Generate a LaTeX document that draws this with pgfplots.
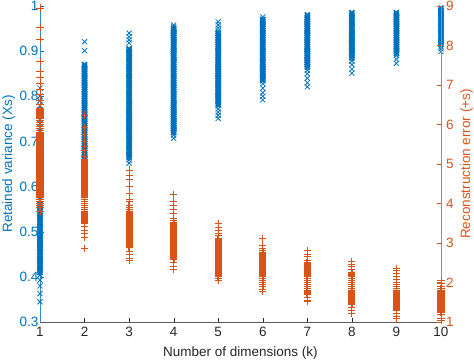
\documentclass[border=0pt]{standalone}
\usepackage{fontspec}
\setmainfont{Liberation Sans}
\usepackage{pgfplots}
\pgfplotsset{compat=1.18}
\definecolor{mblue}{RGB}{0,114,189}
\definecolor{morange}{RGB}{217,83,25}
\definecolor{mgray}{RGB}{38,38,38}
\begin{document}
\begin{tikzpicture}
\pgfplotsset{
  base/.style={width=401pt,height=316pt,scale only axis,xmin=1,xmax=10,clip=false,
    tick align=inside, major tick length=4pt,
    font=\fontsize{13.5}{16}\selectfont,
    /pgf/number format/assume math mode=true,
    xtick={1,2,3,4,5,6,7,8,9,10}},
  bcore/.style={only marks, mark=x, mark size=3.6pt, mblue, mark options={line width=1.8pt}},
  bout/.style={only marks, mark=x, mark size=3.6pt, mblue, mark options={line width=0.8pt}},
  ocore/.style={only marks, mark=+, mark size=3.6pt, morange, mark options={line width=1.8pt}},
  oout/.style={only marks, mark=+, mark size=3.6pt, morange, mark options={line width=0.8pt}},
}
\begin{axis}[base, axis x line*=bottom, axis y line*=left,
  ymin=0.3, ymax=1, ytick={0.3,0.4,0.5,0.6,0.7,0.8,0.9,1},
  x axis line style={draw=mgray!75, line width=0.6pt},
  y axis line style={draw=mblue!80, line width=0.6pt},
  xtick style={draw=mgray}, ytick style={draw=mblue},
  xticklabel style={text=mgray, yshift=-1.5pt}, yticklabel style={text=mblue, xshift=2pt},
  xlabel={Number of dimensions (k)},
  xlabel style={text=mgray, at={(axis description cs:0.5,-0.097)}, anchor=center},
  ylabel={Retained variance (Xs)},
  ylabel style={text=mblue, at={(axis description cs:-0.078,0.5)}, anchor=center},
]
% outlying retained-variance points
\addplot[bout] coordinates {
(1,.345)(1,.363)(1,.380)(1,.393)(1,.404)(1,.818)
(1,.57)(1,.58)(1,.59)(1,.60)(1,.61)(1,.62)(1,.63)(1,.64)(1,.65)(1,.66)(1,.67)(1,.68)
(1,.69)(1,.70)(1,.71)(1,.72)(1,.73)(1,.74)(1,.75)(1,.76)(1,.77)(1,.78)(1,.79)(1,.80)
(2,.901)(2,.921)
(3,.652)(3,.659)(3,.918)(3,.925)(3,.932)(3,.940)
(4,.707)(4,.714)(4,.954)(4,.958)
(5,.751)(5,.758)(5,.765)(5,.772)(5,.945)(5,.951)(5,.958)(5,.965)
(6,.792)(6,.800)(6,.808)(6,.818)(6,.828)(6,.976)
(7,.821)(7,.830)(7,.840)(7,.850)(7,.858)
(8,.851)(8,.860)(8,.870)(8,.878)
(9,.873)(9,.882)(9,.890)
(10,.899)(10,.905)(10,.910)
};
% dense retained-variance points
\addplot[bcore] coordinates {
(1,.410)(1,.415)(1,.420)(1,.425)(1,.430)(1,.435)(1,.440)(1,.445)(1,.450)(1,.455)
(1,.460)(1,.465)(1,.470)(1,.475)(1,.480)(1,.485)(1,.490)(1,.495)(1,.500)(1,.505)
(1,.510)(1,.515)(1,.520)(1,.525)(1,.530)(1,.535)(1,.540)(1,.545)(1,.550)(1,.555)(1,.560)
(2,.62)(2,.63)(2,.64)(2,.65)(2,.66)
(2,.665)(2,.670)(2,.675)(2,.680)(2,.685)(2,.690)(2,.695)(2,.700)(2,.705)(2,.710)
(2,.715)(2,.720)(2,.725)(2,.730)(2,.735)(2,.740)(2,.745)(2,.750)(2,.755)(2,.760)
(2,.765)(2,.770)(2,.775)(2,.780)(2,.785)(2,.790)(2,.795)(2,.800)(2,.805)(2,.810)
(2,.815)(2,.820)(2,.825)(2,.830)(2,.835)(2,.840)(2,.845)(2,.850)(2,.855)(2,.860)
(2,.865)(2,.870)
(3,.665)(3,.670)(3,.675)(3,.680)(3,.685)(3,.690)(3,.695)(3,.700)(3,.705)(3,.710)
(3,.715)(3,.720)(3,.725)(3,.730)(3,.735)(3,.740)(3,.745)(3,.750)(3,.755)(3,.760)
(3,.765)(3,.770)(3,.775)(3,.780)(3,.785)(3,.790)(3,.795)(3,.800)(3,.805)(3,.810)
(3,.815)(3,.820)(3,.825)(3,.830)(3,.835)(3,.840)(3,.845)(3,.850)(3,.855)(3,.860)
(3,.865)(3,.870)(3,.875)(3,.880)(3,.885)(3,.890)(3,.895)(3,.900)(3,.905)
(4,.720)(4,.725)(4,.730)(4,.735)(4,.740)(4,.745)(4,.750)(4,.755)(4,.760)
(4,.765)(4,.770)(4,.775)(4,.780)(4,.785)(4,.790)(4,.795)(4,.800)(4,.805)(4,.810)
(4,.815)(4,.820)(4,.825)(4,.830)(4,.835)(4,.840)(4,.845)(4,.850)(4,.855)(4,.860)
(4,.865)(4,.870)(4,.875)(4,.880)(4,.885)(4,.890)(4,.895)(4,.900)(4,.905)(4,.910)
(4,.915)(4,.920)(4,.925)(4,.930)(4,.935)(4,.940)(4,.945)(4,.950)
(5,.780)(5,.785)(5,.790)(5,.795)(5,.800)(5,.805)(5,.810)
(5,.815)(5,.820)(5,.825)(5,.830)(5,.835)(5,.840)(5,.845)(5,.850)(5,.855)(5,.860)
(5,.865)(5,.870)(5,.875)(5,.880)(5,.885)(5,.890)(5,.895)(5,.900)(5,.905)(5,.910)
(5,.915)(5,.920)(5,.925)(5,.930)(5,.935)(5,.940)
(6,.835)(6,.840)(6,.845)(6,.850)(6,.855)(6,.860)
(6,.865)(6,.870)(6,.875)(6,.880)(6,.885)(6,.890)(6,.895)(6,.900)(6,.905)(6,.910)
(6,.915)(6,.920)(6,.925)(6,.930)(6,.935)(6,.940)(6,.945)(6,.950)(6,.955)(6,.960)
(6,.965)(6,.970)
(7,.865)(7,.870)(7,.875)(7,.880)(7,.885)(7,.890)(7,.895)(7,.900)(7,.905)(7,.910)
(7,.915)(7,.920)(7,.925)(7,.930)(7,.935)(7,.940)(7,.945)(7,.950)(7,.955)(7,.960)
(7,.965)(7,.970)(7,.975)(7,.980)
(8,.885)(8,.890)(8,.895)(8,.900)(8,.905)(8,.910)
(8,.915)(8,.920)(8,.925)(8,.930)(8,.935)(8,.940)(8,.945)(8,.950)(8,.955)(8,.960)
(8,.965)(8,.970)(8,.975)(8,.980)(8,.985)
(9,.895)(9,.900)(9,.905)(9,.910)
(9,.915)(9,.920)(9,.925)(9,.930)(9,.935)(9,.940)(9,.945)(9,.950)(9,.955)(9,.960)
(9,.965)(9,.970)(9,.975)(9,.980)(9,.985)
(10,.915)(10,.920)(10,.925)(10,.930)(10,.935)(10,.940)(10,.945)(10,.950)(10,.955)(10,.960)
(10,.965)(10,.970)(10,.975)(10,.980)(10,.985)(10,.990)(10,.995)
};
\end{axis}
\begin{axis}[base, axis x line=none, axis y line*=right,
  ymin=1, ymax=9, ytick={1,2,3,4,5,6,7,8,9},
  y axis line style={draw=morange!80, line width=0.6pt},
  ytick style={draw=morange}, yticklabel style={text=morange, xshift=1.5pt},
  ylabel={Reconstruction error (+s)},
  ylabel style={text=morange, at={(axis description cs:1.064,0.5)}, anchor=center},
]
% outlying reconstruction-error points
\addplot[oout] coordinates {
(1,3.80)(1,6.50)(1,6.60)(1,6.75)(1,6.90)(1,7.05)(1,7.20)(1,7.35)(1,7.60)(1,8.15)(1,8.45)(1,8.95)
(2,2.87)(2,3.15)(2,3.25)(2,3.33)(2,3.42)(2,5.20)(2,5.35)(2,5.45)(2,5.56)(2,5.75)(2,5.92)(2,6.24)
(3,2.57)(3,2.62)(3,2.70)(3,2.80)(3,4.05)(3,4.10)(3,4.25)(3,4.43)(3,4.60)(3,4.72)(3,4.85)
(4,2.33)(4,2.42)(4,2.52)(4,3.58)(4,3.63)(4,3.75)(4,3.85)(4,3.95)(4,4.05)(4,4.22)
(5,2.06)(5,2.10)(5,3.18)(5,3.25)(5,3.32)(5,3.40)(5,3.50)
(6,1.77)(6,1.83)(6,2.82)(6,2.87)(6,2.95)(6,3.12)
(7,1.51)(7,1.55)(7,1.62)(7,2.57)(7,2.65)(7,2.72)(7,2.82)
(8,1.22)(8,1.30)(8,1.38)(8,2.33)(8,2.40)(8,2.47)(8,2.53)
(9,1.09)(9,1.15)(9,1.22)(9,2.08)(9,2.15)(9,2.22)(9,2.30)(9,2.36)
(10,1.05)(10,1.10)(10,1.18)(10,1.91)(10,1.98)(10,2.06)
};
% dense reconstruction-error points
\addplot[ocore] coordinates {
(1,3.90)(1,3.95)(1,4.00)(1,4.05)(1,4.10)(1,4.15)(1,4.20)(1,4.25)(1,4.30)(1,4.35)
(1,4.40)(1,4.45)(1,4.50)(1,4.55)(1,4.60)(1,4.65)(1,4.70)(1,4.75)(1,4.80)(1,4.85)
(1,4.90)(1,4.95)(1,5.00)(1,5.05)(1,5.10)(1,5.15)(1,5.20)(1,5.25)(1,5.30)(1,5.35)
(1,5.40)(1,5.45)(1,5.50)(1,5.55)(1,5.60)(1,5.65)(1,5.70)(1,5.75)(1,5.80)(1,5.85)
(1,5.90)(1,5.95)(1,6.00)(1,6.05)(1,6.10)(1,6.15)(1,6.20)(1,6.25)(1,6.30)(1,6.35)(1,6.40)
(2,3.50)(2,3.55)(2,3.60)(2,3.65)(2,3.70)(2,3.75)(2,3.80)(2,3.85)(2,3.90)(2,3.95)
(2,4.00)(2,4.05)(2,4.10)(2,4.15)(2,4.20)(2,4.25)(2,4.30)(2,4.35)(2,4.40)(2,4.45)
(2,4.50)(2,4.55)(2,4.60)(2,4.65)(2,4.70)(2,4.75)(2,4.80)(2,4.85)(2,4.90)(2,4.95)
(2,5.00)(2,5.05)(2,5.10)
(3,2.90)(3,2.95)(3,3.00)(3,3.05)(3,3.10)(3,3.15)(3,3.20)(3,3.25)(3,3.30)(3,3.35)
(3,3.40)(3,3.45)(3,3.50)(3,3.55)(3,3.60)(3,3.65)(3,3.70)(3,3.75)(3,3.80)(3,3.85)
(3,3.90)(3,3.95)
(4,2.60)(4,2.65)(4,2.70)(4,2.75)(4,2.80)(4,2.85)(4,2.90)(4,2.95)(4,3.00)(4,3.05)
(4,3.10)(4,3.15)(4,3.20)(4,3.25)(4,3.30)(4,3.35)(4,3.40)(4,3.45)(4,3.50)
(5,2.15)(5,2.20)(5,2.25)(5,2.30)(5,2.35)(5,2.40)(5,2.45)(5,2.50)(5,2.55)(5,2.60)
(5,2.65)(5,2.70)(5,2.75)(5,2.80)(5,2.85)(5,2.90)(5,2.95)(5,3.00)(5,3.05)(5,3.10)
(6,1.90)(6,1.95)(6,2.00)(6,2.05)(6,2.10)(6,2.15)(6,2.20)(6,2.25)(6,2.30)(6,2.35)
(6,2.40)(6,2.45)(6,2.50)(6,2.55)(6,2.60)(6,2.65)(6,2.70)(6,2.75)
(7,1.70)(7,1.75)(7,1.80)(7,1.85)(7,1.90)(7,1.95)(7,2.00)(7,2.05)(7,2.10)(7,2.15)
(7,2.20)(7,2.25)(7,2.30)(7,2.35)(7,2.40)(7,2.45)(7,2.50)
(8,1.45)(8,1.50)(8,1.55)(8,1.60)(8,1.65)(8,1.70)(8,1.75)(8,1.80)(8,1.85)(8,1.90)
(8,1.95)(8,2.00)(8,2.05)(8,2.10)(8,2.15)(8,2.20)(8,2.25)
(9,1.30)(9,1.35)(9,1.40)(9,1.45)(9,1.50)(9,1.55)(9,1.60)(9,1.65)(9,1.70)(9,1.75)
(9,1.80)(9,1.85)(9,1.90)(9,1.95)(9,2.00)
(10,1.25)(10,1.30)(10,1.35)(10,1.40)(10,1.45)(10,1.50)(10,1.55)(10,1.60)(10,1.65)
(10,1.70)(10,1.75)(10,1.80)(10,1.85)
};
\end{axis}
\pgfresetboundingbox
\path (-40pt,-38pt) rectangle (434pt,322pt);
\end{tikzpicture}
\end{document}
